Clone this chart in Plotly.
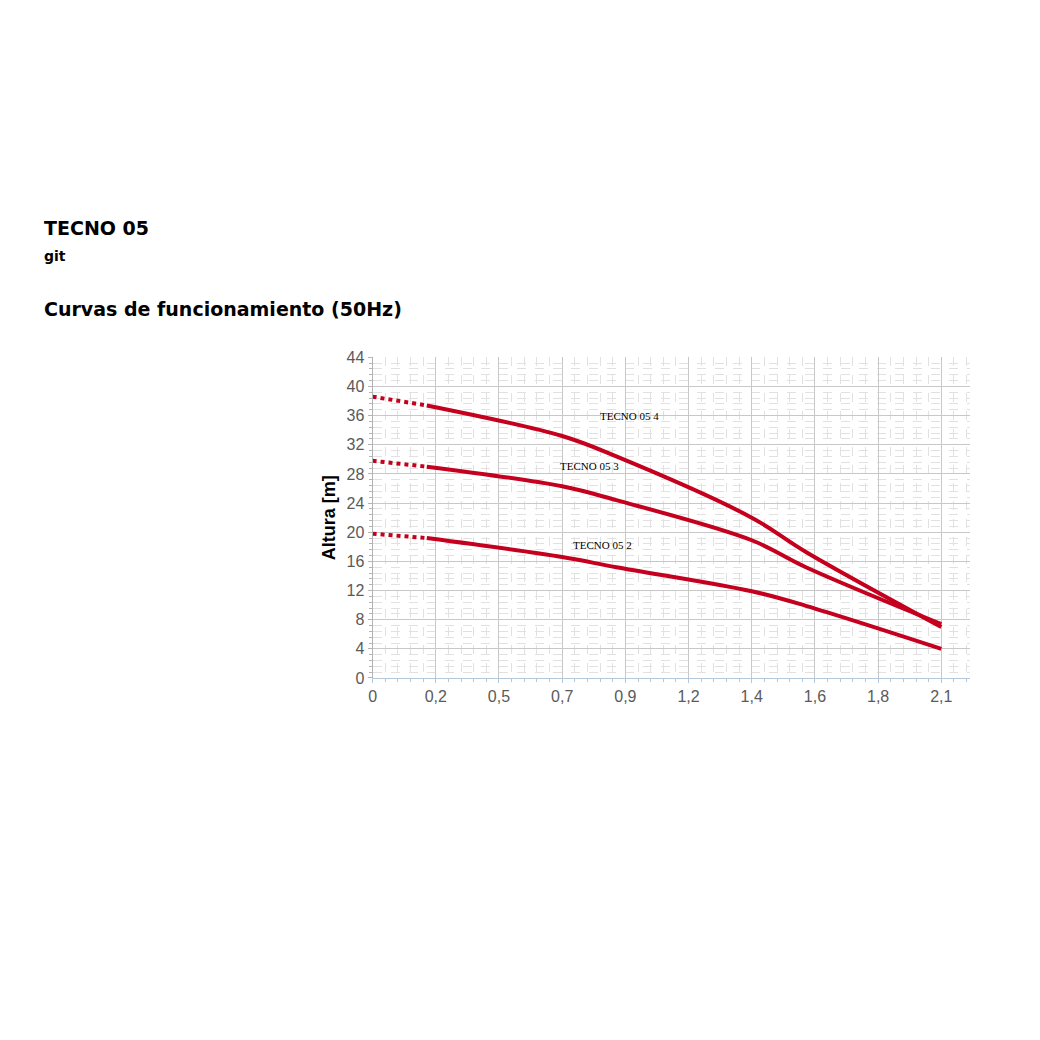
import plotly.graph_objects as go

W = 1040
flow = [0, 0.2, 0.7, 0.9, 1.4, 1.6, 2.1]
head4 = [38.6, 37.4, 33.2, 30.4, 22.0, 17.3, 7.0]
head3 = [29.8, 29.0, 26.3, 24.4, 18.9, 15.2, 7.4]
head2 = [19.8, 19.2, 16.6, 15.2, 11.9, 9.9, 4.0]
names = ["TECNO 05 4", "TECNO 05 3", "TECNO 05 2"]
label_pos = [(0.95, 36.0), (0.8, 29.1), (0.85, 18.2)]
xtick_vals = [i * 2.1 / 9 for i in range(10)]
xtick_text = ["0", "0,2", "0,5", "0,7", "0,9", "1,2", "1,4", "1,6", "1,8", "2,1"]
ytick_vals = list(range(0, 45, 4))

red = "rgb(196,0,30)"
fig = go.Figure()
for h in [head4, head3, head2]:
    fig.add_trace(go.Scatter(x=flow[:2], y=h[:2], mode="lines",
                             line=dict(color=red, width=4, dash="dot", shape="spline"),
                             showlegend=False))
    fig.add_trace(go.Scatter(x=flow[1:], y=h[1:], mode="lines",
                             line=dict(color=red, width=4, shape="spline"),
                             showlegend=False))

for n, (lx, ly) in zip(names, label_pos):
    fig.add_annotation(x=lx, y=ly, text=n, showarrow=False,
                       font=dict(family="Liberation Serif", size=11, color="black"))

def px(x): return x / W
def py(y): return 1 - y / W

fig.add_annotation(xref="paper", yref="paper", x=px(30), y=py(216), text="<b>TECNO 05</b>",
                   showarrow=False, xanchor="left", yanchor="middle",
                   font=dict(family="DejaVu Sans", size=19, color="black"))
fig.add_annotation(xref="paper", yref="paper", x=px(30), y=py(244), text="<b>git</b>",
                   showarrow=False, xanchor="left", yanchor="middle",
                   font=dict(family="DejaVu Sans", size=14, color="black"))
fig.add_annotation(xref="paper", yref="paper", x=px(30), y=py(298),
                   text="<b>Curvas de funcionamiento (50Hz)</b>",
                   showarrow=False, xanchor="left", yanchor="middle",
                   font=dict(family="DejaVu Sans", size=19, color="black"))

grid = dict(showgrid=True, gridcolor="rgb(200,200,200)", gridwidth=1, zeroline=False)
minor = dict(showgrid=True, gridcolor="rgb(225,225,225)", griddash="dash", gridwidth=1)
fig.update_layout(
    width=W, height=W, margin=dict(l=0, r=0, t=0, b=0),
    paper_bgcolor="white", plot_bgcolor="white",
    xaxis=dict(domain=[px(362), px(962)], range=[0, 2.207], tickvals=xtick_vals,
               ticktext=xtick_text, tickfont=dict(family="Liberation Sans", size=16, color="rgb(90,90,90)"),
               showline=True, linecolor="rgb(180,200,220)", ticks="outside", ticklen=4,
               tickcolor="rgb(180,200,220)",
               minor=dict(dtick=2.1 / 45, tick0=0, ticks="outside", ticklen=3,
                          tickcolor="rgb(180,200,220)", **minor), **grid),
    yaxis=dict(domain=[py(673), py(347)], range=[0, 44], tickvals=ytick_vals,
               tickfont=dict(family="Liberation Sans", size=16, color="rgb(90,90,90)"),
               title=dict(text="<b>Altura [m]</b>", standoff=6,
                          font=dict(family="Liberation Sans", size=18, color="black")),
               showline=True, linecolor="rgb(180,180,180)", ticks="outside", ticklen=4,
               tickcolor="rgb(180,180,180)",
               minor=dict(dtick=0.8, ticks="outside", ticklen=3,
                          tickcolor="rgb(180,180,180)", **minor), **grid),
)
fig.write_html("out.html")
